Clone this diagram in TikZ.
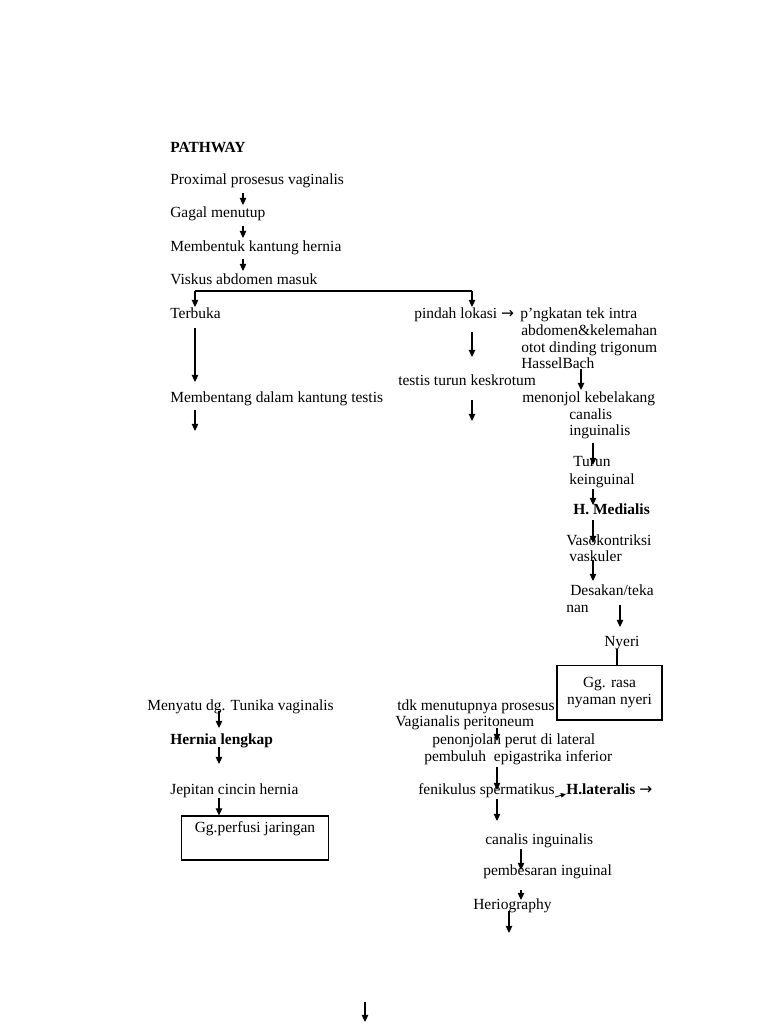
\documentclass[tikz,border=0pt]{standalone}
\usepackage{fontspec}
\setmainfont{Liberation Serif}
\newfontfamily\symfont{DejaVu Sans}
\usepackage{tikz}
\usetikzlibrary{arrows.meta,positioning,calc}

\tikzset{
    txt/.style={anchor=base west, inner sep=0pt, font=\fontsize{12pt}{13pt}\selectfont},
    arr/.style={line width=0.8pt, -{Triangle[length=5.5pt,width=5pt]}},
    box/.style={draw, line width=0.8pt, align=center, inner sep=0pt, font=\fontsize{12pt}{12.9pt}\selectfont}
}

\begin{document}
\begin{tikzpicture}[x=0.7751pt, y=-0.7751pt]
    \useasboundingbox (0,0) rectangle (768,1024);

    % main column
    \node[txt, font=\fontsize{12pt}{13pt}\selectfont\bfseries] (title) at (170,152) {PATHWAY};
    \node[txt] (prox) at (170,184) {Proximal prosesus vaginalis};
    \node[txt] (gagal) at (170,217) {Gagal menutup};
    \node[txt] (kantung) at (170,251) {Membentuk kantung hernia};
    \node[txt] (viskus) at (170,284) {Viskus abdomen masuk};
    \node[txt] (terbuka) at (170,318) {Terbuka};
    \node[txt] (bentang) at (170,402) {Membentang dalam kantung testis};

    % middle column
    \node[txt] (pindah) at (414,318) {pindah lokasi {\symfont →}};
    \node[txt] (testis) at (398,385) {testis turun keskrotum};

    % right column
    \node[txt] (tek1) at (520,318) {p’ngkatan tek intra};
    \node[txt] (tek2) at (521,335) {abdomen\&kelemahan};
    \node[txt] (tek3) at (521,352) {otot dinding trigonum};
    \node[txt] (tek4) at (521,368) {HasselBach};
    \node[txt] (menonjol) at (522,402) {menonjol kebelakang};
    \node[txt] (can1) at (569,419.5) {canalis};
    \node[txt] (can2) at (569,435) {inguinalis};
    \node[txt] (turun1) at (573,466.5) {Turun};
    \node[txt] (turun2) at (569,484) {keinguinal};
    \node[txt, font=\fontsize{12pt}{13pt}\selectfont\bfseries] (medialis) at (573,514) {H. Medialis};
    \node[txt] (vaso1) at (566,545.5) {Vasokontriksi};
    \node[txt] (vaso2) at (569,561) {vaskuler};
    \node[txt] (desak1) at (570,595.5) {Desakan/teka};
    \node[txt] (desak2) at (566,612) {nan};
    \node[txt] (nyeri) at (604,646.5) {Nyeri};
    \node[box, minimum width=81.4pt, minimum height=42.6pt] (rasa) at (609.5,692.5) {Gg. rasa\\ nyaman nyeri};

    % lower left
    \node[txt] (menyatu) at (147,710) {Menyatu dg. Tunika vaginalis};
    \node[txt, font=\fontsize{12pt}{13pt}\selectfont\bfseries] (lengkap) at (170,744) {Hernia lengkap};
    \node[txt] (jepitan) at (170,794) {Jepitan cincin hernia};
    \node[box, minimum width=113.2pt, minimum height=34.1pt] (perfusi) at (255,838) {Gg.perfusi jaringan\\ \strut};

    % lower right
    \node[txt] (tdk1) at (397,710) {tdk menutupnya prosesus};
    \node[txt] (tdk2) at (395,726) {Vagianalis peritoneum};
    \node[txt] (penonjolan1) at (432,744) {penonjolan perut di lateral};
    \node[txt] (penonjolan2) at (424,761) {pembuluh \ epigastrika inferior};
    \node[txt] (fenikulus) at (418,794) {fenikulus spermatikus};
    \node[txt, font=\fontsize{12pt}{13pt}\selectfont\bfseries] (lateralis) at (566,794) {H.lateralis {\mdseries\symfont →}};
    \node[txt] (canalis) at (485,844.5) {canalis inguinalis};
    \node[txt] (besar) at (483,875.5) {pembesaran inguinal};
    \node[txt] (herio) at (473,909) {Heriography};

    % branch from Viskus abdomen masuk
    \coordinate (bl) at (195,291);
    \coordinate (br) at (472,291);
    \draw[line width=0.8pt] (bl) -- (br);
    \draw[arr] (bl) -- (bl |- terbuka.north);
    \draw[arr] (br) -- (br |- pindah.north);

    % loose down arrows
    \foreach \n/\x/\a/\b in {a1/243/193/205, a2/243/226/238, a3/243/259/271,
            a4/195/328/382, a5/472/332/357, a6/581/369/390, a7/195/410/431,
            a8/472/400/421, a9/593/443/465, a10/593/489/505, a11/593/520/543,
            a12/593/560/581, a13/620/605/627, a14/219/711/728, a15/219/747/764,
            a16/497/728/741, a17/497/767/790, a18/497/799/821, a19/521/849/870,
            a20/521/890/900, a21/509/911/933, a22/365/1002/1022} {
        \coordinate (\n s) at (\x,\a);
        \coordinate (\n e) at (\x,\b);
        \draw[arr] (\n s) -- (\n e);
    }

    % into the boxes
    \coordinate (ny) at (617,649);
    \draw[line width=0.8pt] (ny) -- (ny |- rasa.north);
    \coordinate (jp) at (219,798);
    \draw[arr] (jp) -- (jp |- perfusi.north);

    % small arrow to H.lateralis
    \coordinate (fk) at (555,797);
    \draw[line width=0.6pt, -{Triangle[length=4pt,width=3.5pt]}] (fk) -- (lateralis.base west);

\end{tikzpicture}
\end{document}
